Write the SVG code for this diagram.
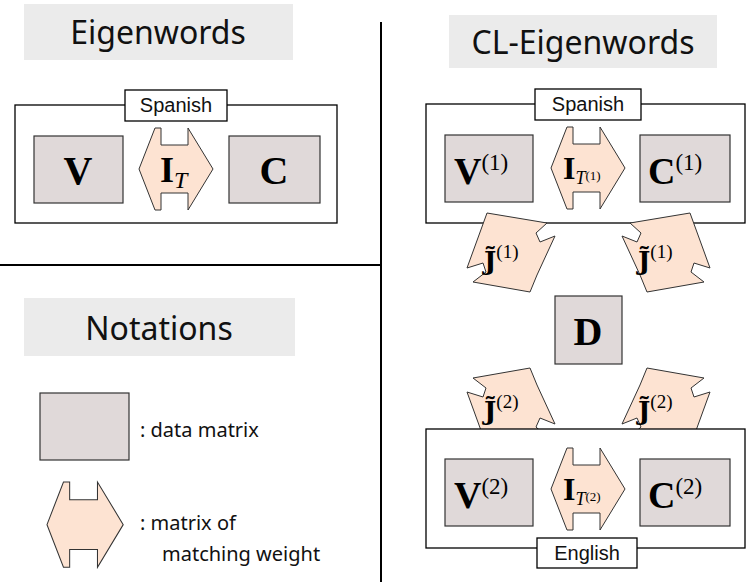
<svg xmlns="http://www.w3.org/2000/svg" xmlns:xlink="http://www.w3.org/1999/xlink" width="752" height="585" viewBox="0 0 752 585">
<style>
.ttl{font-family:"Noto Sans","Open Sans",sans-serif;font-size:32px;fill:#111;text-anchor:middle}
.tbg{fill:#ebebeb}
.frame{fill:#fff;stroke:#000;stroke-width:1.3}
.lab{font-family:"Liberation Sans",sans-serif;font-size:20px;fill:#111;text-anchor:middle}
.mat{fill:#e0d9d9;stroke:#333;stroke-width:1.2}
.wt{fill:#fde3d2;stroke:#333;stroke-width:1}
.m{font-family:"Liberation Serif","DejaVu Serif",serif;font-weight:bold;fill:#000}
.j{font-family:"DejaVu Serif",serif;font-weight:bold;fill:#000}
.sup{font-family:"Liberation Serif","DejaVu Serif",serif;font-weight:normal;fill:#000}
.it{font-family:"Liberation Serif",serif;font-style:italic;font-weight:normal}
.note{font-family:"Noto Sans","Open Sans",sans-serif;font-size:20px;fill:#111}
.div{stroke:#000;stroke-width:2}
</style>
<defs>
<polygon id="dbl" class="wt" points="0,41 16,0 22,0 22,17 49,17 49,0 74,41 49,82 49,65 22,65 22,82 16,82"/>
<polygon id="jarr" class="wt" points="20,0 80,10 69,20 73,29 88,23 70,62 63,79 6,69 19,59 16,50 0,55"/>
</defs>

<g id="dividers">
<line class="div" x1="381" y1="22" x2="381" y2="582"/>
<line class="div" x1="0" y1="265" x2="381" y2="265"/>
</g>

<g id="title-eigen"><rect class="tbg" x="24" y="4" width="269" height="56"/><text class="ttl" x="158" y="44">Eigenwords</text></g>
<g id="title-cl"><rect class="tbg" x="449" y="15" width="268" height="53"/><text class="ttl" x="583" y="54">CL-Eigenwords</text></g>
<g id="title-notations"><rect class="tbg" x="24" y="298" width="271" height="58"/><text class="ttl" x="159" y="340">Notations</text></g>

<g id="eigen-spanish">
<rect class="frame" x="15" y="105" width="322" height="118"/>
<rect class="frame" x="125" y="90" width="102" height="31"/>
<text class="lab" x="176" y="112">Spanish</text>
</g>
<g id="eigen-V"><rect class="mat" x="34" y="136" width="89" height="67"/><text class="m" x="78" y="184" font-size="40" text-anchor="middle">V</text></g>
<g id="eigen-I"><use xlink:href="#dbl" transform="translate(139,128)"/><text class="m" x="160" y="182" font-size="36">I<tspan class="it" font-size="24" dy="6">T</tspan></text></g>
<g id="eigen-C"><rect class="mat" x="229" y="136" width="91" height="67"/><text class="m" x="274" y="184" font-size="40" text-anchor="middle">C</text></g>

<g id="cl-spanish">
<rect class="frame" x="426" y="104" width="319" height="119"/>
<rect class="frame" x="535" y="89" width="106" height="31"/>
<text class="lab" x="588" y="111">Spanish</text>
</g>
<g id="cl-V1"><rect class="mat" x="445" y="135" width="88" height="67"/><text class="m" x="454" y="184" font-size="38">V<tspan class="sup" font-size="23" dy="-14">(1)</tspan></text></g>
<g id="cl-I1"><use xlink:href="#dbl" transform="translate(551,127)"/><text class="m" x="563" y="179" font-size="32">I<tspan class="it" font-size="18" dy="5">T</tspan><tspan class="sup" font-size="13" dy="-4">(1)</tspan></text></g>
<g id="cl-C1"><rect class="mat" x="640" y="135" width="90" height="67"/><text class="m" x="648" y="184" font-size="38">C<tspan class="sup" font-size="23" dy="-14">(1)</tspan></text></g>

<g id="cl-J1a"><use xlink:href="#jarr" transform="translate(467,213)"/><text class="j" x="484" y="270" font-size="26">J̃<tspan class="sup" font-size="19" dy="-12">(1)</tspan></text></g>
<g id="cl-J1b"><use xlink:href="#jarr" transform="translate(710,213) scale(-1,1)"/><text class="j" x="638" y="270" font-size="26">J̃<tspan class="sup" font-size="19" dy="-12">(1)</tspan></text></g>

<g id="cl-D"><rect class="mat" x="555" y="296" width="67" height="68"/><text class="m" x="588" y="345" font-size="40" text-anchor="middle">D</text></g>

<g id="cl-J2a"><use xlink:href="#jarr" transform="translate(467,447) scale(1,-1)"/><text class="j" x="484" y="420" font-size="26">J̃<tspan class="sup" font-size="19" dy="-12">(2)</tspan></text></g>
<g id="cl-J2b"><use xlink:href="#jarr" transform="translate(710,447) scale(-1,-1)"/><text class="j" x="638" y="420" font-size="26">J̃<tspan class="sup" font-size="19" dy="-12">(2)</tspan></text></g>

<g id="cl-english">
<rect class="frame" x="426" y="429" width="319" height="119"/>
<rect class="frame" x="537" y="538" width="100" height="30"/>
<text class="lab" x="587" y="560">English</text>
</g>
<g id="cl-V2"><rect class="mat" x="445" y="459" width="88" height="67"/><text class="m" x="454" y="508" font-size="38">V<tspan class="sup" font-size="23" dy="-14">(2)</tspan></text></g>
<g id="cl-I2"><use xlink:href="#dbl" transform="translate(551,448)"/><text class="m" x="563" y="500" font-size="32">I<tspan class="it" font-size="18" dy="5">T</tspan><tspan class="sup" font-size="13" dy="-4">(2)</tspan></text></g>
<g id="cl-C2"><rect class="mat" x="640" y="459" width="90" height="67"/><text class="m" x="648" y="508" font-size="38">C<tspan class="sup" font-size="23" dy="-14">(2)</tspan></text></g>

<g id="note-data"><rect class="mat" x="40" y="393" width="89" height="67"/><text class="note" x="140" y="437">: data matrix</text></g>
<g id="note-weight"><use xlink:href="#dbl" transform="translate(47,482) scale(1.03,1.04)"/><text class="note" x="140" y="530">: matrix of</text><text class="note" x="162" y="561">matching weight</text></g>
</svg>
